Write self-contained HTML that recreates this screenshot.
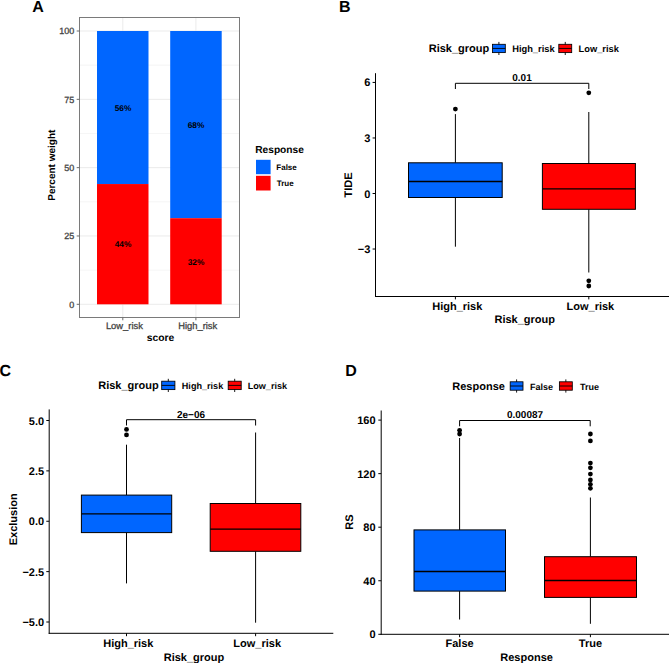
<!DOCTYPE html><html><head><meta charset="utf-8"><style>html,body{margin:0;padding:0;background:#fff;}svg{display:block;}text{font-family:"Liberation Sans",sans-serif;text-rendering:geometricPrecision;}</style></head><body>
<svg width="669" height="663" viewBox="0 0 669 663">
<rect x="0" y="0" width="669" height="663" fill="#fff"/>
<text x="32.2" y="11.7" font-size="16" font-weight="bold" text-anchor="start" fill="#000" >A</text>
<text x="339" y="11.7" font-size="16" font-weight="bold" text-anchor="start" fill="#000" >B</text>
<text x="-0.6" y="375.6" font-size="16" font-weight="bold" text-anchor="start" fill="#000" >C</text>
<text x="345.3" y="375.7" font-size="16" font-weight="bold" text-anchor="start" fill="#000" >D</text>
<line x1="79.5" y1="270.14" x2="239.5" y2="270.14" stroke="#F0F0F0" stroke-width="0.7"/>
<line x1="79.5" y1="201.81" x2="239.5" y2="201.81" stroke="#F0F0F0" stroke-width="0.7"/>
<line x1="79.5" y1="133.49" x2="239.5" y2="133.49" stroke="#F0F0F0" stroke-width="0.7"/>
<line x1="79.5" y1="65.16" x2="239.5" y2="65.16" stroke="#F0F0F0" stroke-width="0.7"/>
<line x1="79.5" y1="304.3" x2="239.5" y2="304.3" stroke="#EBEBEB" stroke-width="1.0"/>
<line x1="79.5" y1="235.98" x2="239.5" y2="235.98" stroke="#EBEBEB" stroke-width="1.0"/>
<line x1="79.5" y1="167.65" x2="239.5" y2="167.65" stroke="#EBEBEB" stroke-width="1.0"/>
<line x1="79.5" y1="99.33" x2="239.5" y2="99.33" stroke="#EBEBEB" stroke-width="1.0"/>
<line x1="79.5" y1="31.0" x2="239.5" y2="31.0" stroke="#EBEBEB" stroke-width="1.0"/>
<line x1="122.8" y1="17.5" x2="122.8" y2="317.5" stroke="#EBEBEB" stroke-width="1.0"/>
<line x1="195.9" y1="17.5" x2="195.9" y2="317.5" stroke="#EBEBEB" stroke-width="1.0"/>
<rect x="97" y="31.0" width="51.50" height="153.05" fill="#0066FF" stroke="none" stroke-width="1.0"/>
<rect x="97" y="184.048" width="51.50" height="120.25" fill="#FF0000" stroke="none" stroke-width="1.0"/>
<rect x="170.2" y="31.0" width="51.50" height="187.21" fill="#0066FF" stroke="none" stroke-width="1.0"/>
<rect x="170.2" y="218.21050000000002" width="51.50" height="86.09" fill="#FF0000" stroke="none" stroke-width="1.0"/>
<rect x="79.5" y="17.5" width="160.00" height="300.00" fill="none" stroke="#7A7A7A" stroke-width="1.0"/>
<line x1="76.7" y1="304.3" x2="79.5" y2="304.3" stroke="#6A6A6A" stroke-width="1.0"/>
<text x="74.3" y="307.5" font-size="9" font-weight="normal" text-anchor="end" fill="#444444" stroke="#444444" stroke-width="0.3">0</text>
<line x1="76.7" y1="235.98" x2="79.5" y2="235.98" stroke="#6A6A6A" stroke-width="1.0"/>
<text x="74.3" y="239.18" font-size="9" font-weight="normal" text-anchor="end" fill="#444444" stroke="#444444" stroke-width="0.3">25</text>
<line x1="76.7" y1="167.65" x2="79.5" y2="167.65" stroke="#6A6A6A" stroke-width="1.0"/>
<text x="74.3" y="170.85" font-size="9" font-weight="normal" text-anchor="end" fill="#444444" stroke="#444444" stroke-width="0.3">50</text>
<line x1="76.7" y1="99.33" x2="79.5" y2="99.33" stroke="#6A6A6A" stroke-width="1.0"/>
<text x="74.3" y="102.53" font-size="9" font-weight="normal" text-anchor="end" fill="#444444" stroke="#444444" stroke-width="0.3">75</text>
<line x1="76.7" y1="31.0" x2="79.5" y2="31.0" stroke="#6A6A6A" stroke-width="1.0"/>
<text x="74.3" y="34.2" font-size="9" font-weight="normal" text-anchor="end" fill="#444444" stroke="#444444" stroke-width="0.3">100</text>
<line x1="122.8" y1="317.5" x2="122.8" y2="320.3" stroke="#6A6A6A" stroke-width="1.0"/>
<line x1="195.9" y1="317.5" x2="195.9" y2="320.3" stroke="#6A6A6A" stroke-width="1.0"/>
<text x="124.4" y="329" font-size="9.4" font-weight="normal" text-anchor="middle" fill="#444444" stroke="#444444" stroke-width="0.3">Low_risk</text>
<text x="197.7" y="329" font-size="9.4" font-weight="normal" text-anchor="middle" fill="#444444" stroke="#444444" stroke-width="0.3">High_risk</text>
<text x="160.5" y="340.8" font-size="10.3" font-weight="bold" text-anchor="middle" fill="#000" >score</text>
<text x="0" y="0" transform="translate(54.8,165.2) rotate(-90)" font-size="10" font-weight="bold" text-anchor="middle" fill="#000" >Percent weight</text>
<text x="123" y="110.9" font-size="8.3" font-weight="bold" text-anchor="middle" fill="#000" >56%</text>
<text x="196" y="127.7" font-size="8.3" font-weight="bold" text-anchor="middle" fill="#000" >68%</text>
<text x="123" y="247.3" font-size="8.3" font-weight="bold" text-anchor="middle" fill="#000" >44%</text>
<text x="196" y="264.6" font-size="8.3" font-weight="bold" text-anchor="middle" fill="#000" >32%</text>
<text x="255.2" y="152.6" font-size="10.2" font-weight="bold" text-anchor="start" fill="#000" >Response</text>
<rect x="256" y="159.8" width="14.60" height="14.40" fill="#0066FF" stroke="none" stroke-width="1.0"/>
<rect x="256" y="175.8" width="14.60" height="14.70" fill="#FF0000" stroke="none" stroke-width="1.0"/>
<text x="276.3" y="170" font-size="8" font-weight="bold" text-anchor="start" fill="#000" >False</text>
<text x="276.7" y="186" font-size="8" font-weight="bold" text-anchor="start" fill="#000" >True</text>
<line x1="375.5" y1="73.2" x2="375.5" y2="297" stroke="#000" stroke-width="1.0"/>
<line x1="375" y1="296.5" x2="669" y2="296.5" stroke="#000" stroke-width="1.0"/>
<line x1="372.6" y1="82.43" x2="375.5" y2="82.43" stroke="#000" stroke-width="1.0"/>
<text x="370.4" y="86.43" font-size="11" font-weight="bold" text-anchor="end" fill="#000" >6</text>
<line x1="372.6" y1="137.97" x2="375.5" y2="137.97" stroke="#000" stroke-width="1.0"/>
<text x="370.4" y="141.97" font-size="11" font-weight="bold" text-anchor="end" fill="#000" >3</text>
<line x1="372.6" y1="193.5" x2="375.5" y2="193.5" stroke="#000" stroke-width="1.0"/>
<text x="370.4" y="197.5" font-size="11" font-weight="bold" text-anchor="end" fill="#000" >0</text>
<line x1="372.6" y1="249.03" x2="375.5" y2="249.03" stroke="#000" stroke-width="1.0"/>
<text x="370.4" y="253.03" font-size="11" font-weight="bold" text-anchor="end" fill="#000" >&#8722;3</text>
<line x1="455.4" y1="296.5" x2="455.4" y2="299.4" stroke="#000" stroke-width="1.0"/>
<line x1="588.8" y1="296.5" x2="588.8" y2="299.4" stroke="#000" stroke-width="1.0"/>
<text x="457.3" y="309.7" font-size="11" font-weight="bold" text-anchor="middle" fill="#000" >High_risk</text>
<text x="590.4" y="309.7" font-size="11" font-weight="bold" text-anchor="middle" fill="#000" >Low_risk</text>
<text x="524.75" y="322.9" font-size="11" font-weight="bold" text-anchor="middle" fill="#000" >Risk_group</text>
<text x="0" y="0" transform="translate(352.3,185) rotate(-90)" font-size="11" font-weight="bold" text-anchor="middle" fill="#000" >TIDE</text>
<line x1="455.4" y1="114.1" x2="455.4" y2="162.8" stroke="#000" stroke-width="1.0"/>
<line x1="455.4" y1="197.5" x2="455.4" y2="246.7" stroke="#000" stroke-width="1.0"/>
<rect x="408.5" y="162.8" width="93.70" height="34.70" fill="#0066FF" stroke="#000" stroke-width="1.0"/>
<line x1="408.5" y1="181.5" x2="502.2" y2="181.5" stroke="#000" stroke-width="1.3"/>
<circle cx="455.4" cy="109.1" r="2.4" fill="#000"/>
<line x1="588.8" y1="112" x2="588.8" y2="163.5" stroke="#000" stroke-width="1.0"/>
<line x1="588.8" y1="209.3" x2="588.8" y2="272.5" stroke="#000" stroke-width="1.0"/>
<rect x="542.4" y="163.5" width="93.00" height="45.80" fill="#FF0000" stroke="#000" stroke-width="1.0"/>
<line x1="542.4" y1="188.8" x2="635.4" y2="188.8" stroke="#000" stroke-width="1.3"/>
<circle cx="588.8" cy="92.8" r="2.4" fill="#000"/>
<circle cx="588.8" cy="280.8" r="2.4" fill="#000"/>
<circle cx="588.8" cy="286" r="2.4" fill="#000"/>
<path d="M455.4,89 L455.4,83.3 L588.8,83.3 L588.8,89" fill="none" stroke="#000" stroke-width="1" stroke-linejoin="round"/>
<text x="522" y="80.6" font-size="10" font-weight="bold" text-anchor="middle" fill="#000" >0.01</text>
<text x="428.7" y="51.7" font-size="11" font-weight="bold" text-anchor="start" fill="#000" >Risk_group</text>
<line x1="498.9" y1="41.9" x2="498.9" y2="55.0" stroke="#000" stroke-width="0.9"/>
<rect x="492.5" y="44.3" width="12.80" height="8.30" fill="#0066FF" stroke="#000" stroke-width="0.85"/>
<line x1="492.5" y1="48.45" x2="505.3" y2="48.45" stroke="#000" stroke-width="0.9"/>
<text x="512.2" y="51.6" font-size="9.3" font-weight="bold" text-anchor="start" fill="#000" >High_risk</text>
<line x1="565.25" y1="41.9" x2="565.25" y2="55.0" stroke="#000" stroke-width="0.9"/>
<rect x="558.8" y="44.3" width="12.90" height="8.30" fill="#FF0000" stroke="#000" stroke-width="0.85"/>
<line x1="558.8" y1="48.45" x2="571.7" y2="48.45" stroke="#000" stroke-width="0.9"/>
<text x="578.6" y="51.6" font-size="9.3" font-weight="bold" text-anchor="start" fill="#000" >Low_risk</text>
<line x1="49.2" y1="409.4" x2="49.2" y2="633.8" stroke="#000" stroke-width="1.0"/>
<line x1="48.7" y1="633.3" x2="333.3" y2="633.3" stroke="#000" stroke-width="1.0"/>
<line x1="46.3" y1="420.5" x2="49.2" y2="420.5" stroke="#000" stroke-width="1.0"/>
<text x="44.1" y="424.5" font-size="11" font-weight="bold" text-anchor="end" fill="#000" >5.0</text>
<line x1="46.3" y1="470.88" x2="49.2" y2="470.88" stroke="#000" stroke-width="1.0"/>
<text x="44.1" y="474.88" font-size="11" font-weight="bold" text-anchor="end" fill="#000" >2.5</text>
<line x1="46.3" y1="521.25" x2="49.2" y2="521.25" stroke="#000" stroke-width="1.0"/>
<text x="44.1" y="525.25" font-size="11" font-weight="bold" text-anchor="end" fill="#000" >0.0</text>
<line x1="46.3" y1="571.62" x2="49.2" y2="571.62" stroke="#000" stroke-width="1.0"/>
<text x="44.1" y="575.62" font-size="11" font-weight="bold" text-anchor="end" fill="#000" >&#8722;2.5</text>
<line x1="46.3" y1="622.0" x2="49.2" y2="622.0" stroke="#000" stroke-width="1.0"/>
<text x="44.1" y="626.0" font-size="11" font-weight="bold" text-anchor="end" fill="#000" >&#8722;5.0</text>
<line x1="126.5" y1="633.3" x2="126.5" y2="636.2" stroke="#000" stroke-width="1.0"/>
<line x1="255.6" y1="633.3" x2="255.6" y2="636.2" stroke="#000" stroke-width="1.0"/>
<text x="128.3" y="646.5" font-size="11" font-weight="bold" text-anchor="middle" fill="#000" >High_risk</text>
<text x="257.2" y="646.5" font-size="11" font-weight="bold" text-anchor="middle" fill="#000" >Low_risk</text>
<text x="194" y="660.5" font-size="11" font-weight="bold" text-anchor="middle" fill="#000" >Risk_group</text>
<text x="0" y="0" transform="translate(17.1,519.3) rotate(-90)" font-size="11" font-weight="bold" text-anchor="middle" fill="#000" >Exclusion</text>
<line x1="126.5" y1="444.7" x2="126.5" y2="495.1" stroke="#000" stroke-width="1.0"/>
<line x1="126.5" y1="532.6" x2="126.5" y2="583.4" stroke="#000" stroke-width="1.0"/>
<rect x="81.4" y="495.1" width="90.30" height="37.50" fill="#0066FF" stroke="#000" stroke-width="1.0"/>
<line x1="81.4" y1="513.8" x2="171.7" y2="513.8" stroke="#000" stroke-width="1.3"/>
<circle cx="126.5" cy="429.4" r="2.4" fill="#000"/>
<circle cx="126.5" cy="434.9" r="2.4" fill="#000"/>
<line x1="255.6" y1="432.5" x2="255.6" y2="503.5" stroke="#000" stroke-width="1.0"/>
<line x1="255.6" y1="551.3" x2="255.6" y2="622.7" stroke="#000" stroke-width="1.0"/>
<rect x="210.2" y="503.5" width="90.60" height="47.80" fill="#FF0000" stroke="#000" stroke-width="1.0"/>
<line x1="210.2" y1="529.1" x2="300.8" y2="529.1" stroke="#000" stroke-width="1.3"/>
<path d="M126.5,425.5 L126.5,419.7 L255.6,419.7 L255.6,425.5" fill="none" stroke="#000" stroke-width="1" stroke-linejoin="round"/>
<text x="191" y="418" font-size="10" font-weight="bold" text-anchor="middle" fill="#000" >2e&#8722;06</text>
<text x="98.2" y="389.0" font-size="11" font-weight="bold" text-anchor="start" fill="#000" >Risk_group</text>
<line x1="168.3" y1="378.8" x2="168.3" y2="392.0" stroke="#000" stroke-width="0.9"/>
<rect x="161.7" y="381.2" width="13.20" height="8.40" fill="#0066FF" stroke="#000" stroke-width="0.85"/>
<line x1="161.7" y1="385.4" x2="174.9" y2="385.4" stroke="#000" stroke-width="0.9"/>
<text x="181.8" y="388.8" font-size="9.1" font-weight="bold" text-anchor="start" fill="#000" >High_risk</text>
<line x1="234.7" y1="378.8" x2="234.7" y2="392.0" stroke="#000" stroke-width="0.9"/>
<rect x="228.2" y="381.2" width="13.00" height="8.40" fill="#FF0000" stroke="#000" stroke-width="0.85"/>
<line x1="228.2" y1="385.4" x2="241.2" y2="385.4" stroke="#000" stroke-width="0.9"/>
<text x="247.7" y="388.8" font-size="9.1" font-weight="bold" text-anchor="start" fill="#000" >Low_risk</text>
<line x1="381.2" y1="410.5" x2="381.2" y2="634.8" stroke="#000" stroke-width="1.0"/>
<line x1="380.7" y1="634.3" x2="669" y2="634.3" stroke="#000" stroke-width="1.0"/>
<line x1="378.3" y1="634.3" x2="381.2" y2="634.3" stroke="#000" stroke-width="1.0"/>
<text x="375.6" y="638.3" font-size="11" font-weight="bold" text-anchor="end" fill="#000" >0</text>
<line x1="378.3" y1="580.75" x2="381.2" y2="580.75" stroke="#000" stroke-width="1.0"/>
<text x="375.6" y="584.75" font-size="11" font-weight="bold" text-anchor="end" fill="#000" >40</text>
<line x1="378.3" y1="527.2" x2="381.2" y2="527.2" stroke="#000" stroke-width="1.0"/>
<text x="375.6" y="531.2" font-size="11" font-weight="bold" text-anchor="end" fill="#000" >80</text>
<line x1="378.3" y1="473.65" x2="381.2" y2="473.65" stroke="#000" stroke-width="1.0"/>
<text x="375.6" y="477.65" font-size="11" font-weight="bold" text-anchor="end" fill="#000" >120</text>
<line x1="378.3" y1="420.1" x2="381.2" y2="420.1" stroke="#000" stroke-width="1.0"/>
<text x="375.6" y="424.1" font-size="11" font-weight="bold" text-anchor="end" fill="#000" >160</text>
<line x1="459.6" y1="634.3" x2="459.6" y2="637.2" stroke="#000" stroke-width="1.0"/>
<line x1="590.4" y1="634.3" x2="590.4" y2="637.2" stroke="#000" stroke-width="1.0"/>
<text x="459.6" y="647" font-size="11" font-weight="bold" text-anchor="middle" fill="#000" >False</text>
<text x="590.4" y="647" font-size="11" font-weight="bold" text-anchor="middle" fill="#000" >True</text>
<text x="526.6" y="660.7" font-size="11" font-weight="bold" text-anchor="middle" fill="#000" >Response</text>
<text x="0" y="0" transform="translate(352.6,522) rotate(-90)" font-size="11" font-weight="bold" text-anchor="middle" fill="#000" >RS</text>
<line x1="459.6" y1="438" x2="459.6" y2="529.9" stroke="#000" stroke-width="1.0"/>
<line x1="459.6" y1="591.1" x2="459.6" y2="619.5" stroke="#000" stroke-width="1.0"/>
<rect x="414" y="529.9" width="91.50" height="61.20" fill="#0066FF" stroke="#000" stroke-width="1.0"/>
<line x1="414" y1="571.5" x2="505.5" y2="571.5" stroke="#000" stroke-width="1.3"/>
<circle cx="459.6" cy="430.3" r="2.4" fill="#000"/>
<circle cx="459.6" cy="434" r="2.4" fill="#000"/>
<line x1="590.4" y1="497.5" x2="590.4" y2="556.7" stroke="#000" stroke-width="1.0"/>
<line x1="590.4" y1="597.4" x2="590.4" y2="623.8" stroke="#000" stroke-width="1.0"/>
<rect x="544.5" y="556.7" width="92.00" height="40.70" fill="#FF0000" stroke="#000" stroke-width="1.0"/>
<line x1="544.5" y1="580.5" x2="636.5" y2="580.5" stroke="#000" stroke-width="1.3"/>
<circle cx="590.4" cy="434" r="2.4" fill="#000"/>
<circle cx="590.4" cy="440.9" r="2.4" fill="#000"/>
<circle cx="590.4" cy="463.1" r="2.4" fill="#000"/>
<circle cx="590.4" cy="467.8" r="2.4" fill="#000"/>
<circle cx="590.4" cy="474.1" r="2.4" fill="#000"/>
<circle cx="590.4" cy="480" r="2.4" fill="#000"/>
<circle cx="590.4" cy="484.3" r="2.4" fill="#000"/>
<circle cx="590.4" cy="488.3" r="2.4" fill="#000"/>
<path d="M459.6,426.3 L459.6,420.5 L590.2,420.5 L590.2,426.3" fill="none" stroke="#000" stroke-width="1" stroke-linejoin="round"/>
<text x="525" y="418.2" font-size="10" font-weight="bold" text-anchor="middle" fill="#000" >0.00087</text>
<text x="452.3" y="389.9" font-size="11" font-weight="bold" text-anchor="start" fill="#000" >Response</text>
<line x1="516.6" y1="379.40000000000003" x2="516.6" y2="392.59999999999997" stroke="#000" stroke-width="0.9"/>
<rect x="510.2" y="381.8" width="12.80" height="8.40" fill="#0066FF" stroke="#000" stroke-width="0.85"/>
<line x1="510.2" y1="386.0" x2="523.0" y2="386.0" stroke="#000" stroke-width="0.9"/>
<text x="530.0" y="389.6" font-size="9" font-weight="bold" text-anchor="start" fill="#000" >False</text>
<line x1="565.8499999999999" y1="379.40000000000003" x2="565.8499999999999" y2="392.59999999999997" stroke="#000" stroke-width="0.9"/>
<rect x="559.4" y="381.8" width="12.90" height="8.40" fill="#FF0000" stroke="#000" stroke-width="0.85"/>
<line x1="559.4" y1="386.0" x2="572.3" y2="386.0" stroke="#000" stroke-width="0.9"/>
<text x="580.0" y="389.6" font-size="9" font-weight="bold" text-anchor="start" fill="#000" >True</text>
</svg></body></html>
